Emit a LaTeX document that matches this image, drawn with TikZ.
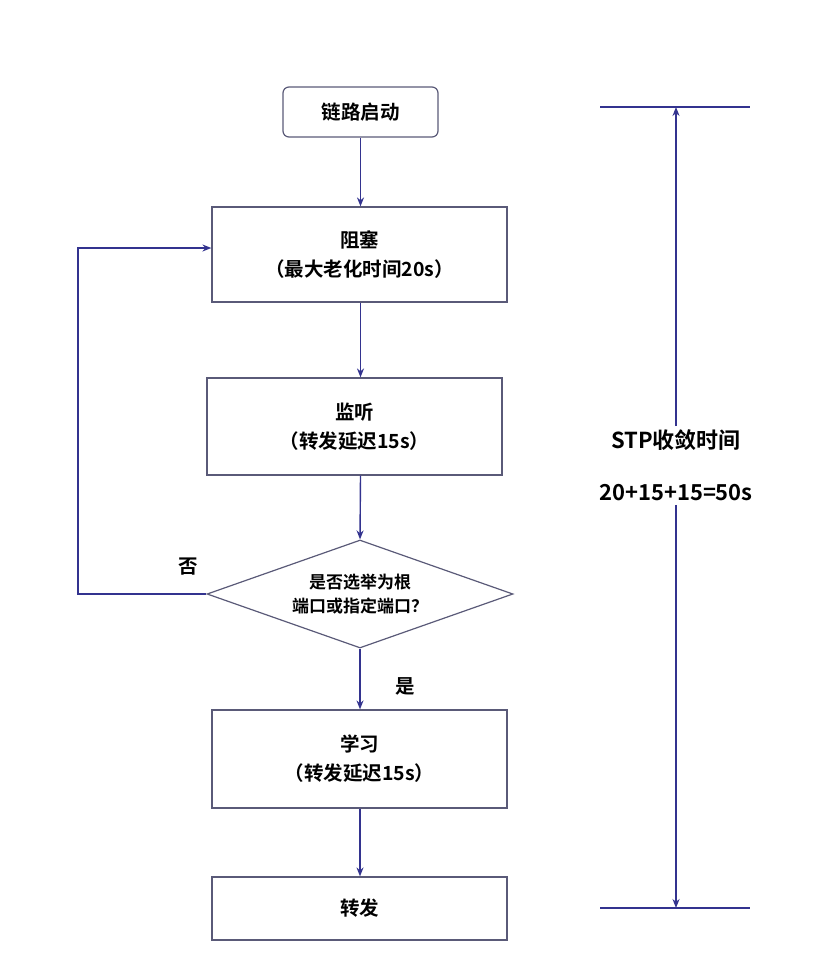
\documentclass[tikz,border=0pt]{standalone}
\usepackage{fontspec}
\setmainfont{Noto Sans CJK SC}[BoldFont={* Bold}]
\usetikzlibrary{shapes.geometric,arrows.meta}
\definecolor{ln}{HTML}{33338F}
\definecolor{bd}{HTML}{5A5A78}
\begin{document}
\begin{tikzpicture}[x=1pt,y=-1pt,
  box/.style={draw=bd,line width=1.2pt,minimum width=295pt,align=center,font=\bfseries\fontsize{19.5}{29}\selectfont},
  arr/.style={draw=ln,line width=1.4pt,-{Stealth[length=9pt,width=7pt]}},
  lbl/.style={font=\bfseries\fontsize{19.5}{24}\selectfont}]
\useasboundingbox (0,0) rectangle (822,980);
\node[box,rounded corners=6pt,minimum width=155pt,minimum height=50pt] (s) at (360.5,112) {链路启动};
\node[box,minimum height=95pt] (b) at (359.5,254.5) {阻塞\\（最大老化时间20s）};
\node[box,minimum height=97pt] (l) at (354.5,426.5) {监听\\（转发延迟15s）};
\node[draw=bd,line width=1.2pt,diamond,aspect=2.83,minimum width=306pt,minimum height=108pt,inner sep=0pt,align=center,font=\bfseries\fontsize{17}{24}\selectfont] (d) at (360,594) {是否选举为根\\端口或指定端口？};
\node[box,minimum height=98pt] (x) at (359.5,759) {学习\\（转发延迟15s）};
\node[box,minimum height=63pt] (f) at (359.5,908.5) {转发};
\draw[arr] (s.south) -- (b.north-|s.south);
\draw[arr] (b.south-|s.south) -- (l.north-|s.south);
\draw[arr] (l.south-|s.south) -- (d.north);
\draw[arr] (d.south) -- (x.north-|d.south);
\draw[arr] (x.south-|d.south) -- (f.north-|d.south);
\coordinate (c1) at (78,594);
\coordinate (c2) at (78,248);
\draw[arr] (d.west) -- (c1) -- (c2) -- (b.west|-c2);
\node[lbl] (no) at (188,567) {否};
\node[lbl] (yes) at (405,686) {是};
\coordinate (t1) at (600,107); \coordinate (t2) at (750,107);
\coordinate (u1) at (600,908); \coordinate (u2) at (750,908);
\draw[ln,line width=2.4pt] (t1) -- (t2);
\draw[ln,line width=2.4pt] (u1) -- (u2);
\node[lbl,font=\bfseries\fontsize{22}{26}\selectfont] (t) at (676,440) {STP收敛时间};
\node[lbl,font=\bfseries\fontsize{22}{26}\selectfont] (v) at (676,493) {20+15+15=50s};
\coordinate (m) at (676,107); \coordinate (n) at (676,908);
\draw[arr] (t.north) -- (m);
\draw[arr] (v.south) -- (n);
\end{tikzpicture}
\end{document}
